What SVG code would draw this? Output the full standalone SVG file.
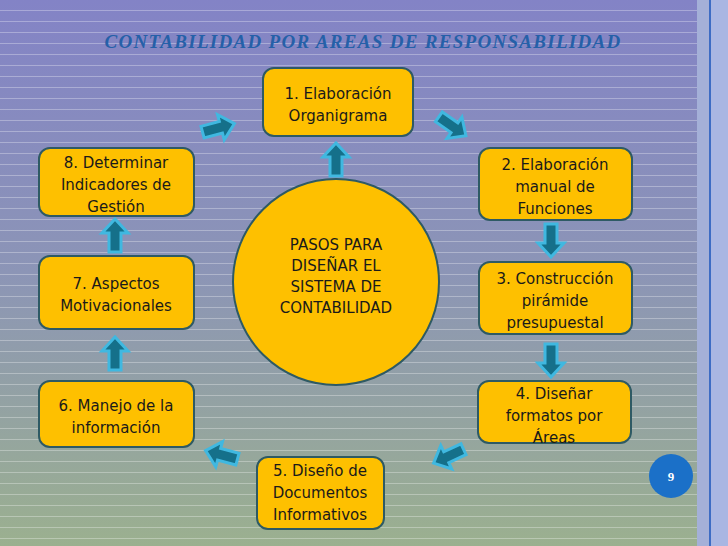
<svg xmlns="http://www.w3.org/2000/svg" width="728" height="546" viewBox="0 0 728 546">
<defs>
<linearGradient id="bg" x1="0" y1="0" x2="0" y2="1"><stop offset="0" stop-color="#8383c6"/><stop offset="0.5" stop-color="#8c95b6"/><stop offset="1" stop-color="#9bb08f"/></linearGradient>
<pattern id="lines" width="10" height="11" patternUnits="userSpaceOnUse"><rect y="10" width="10" height="1.2" fill="#ffffff" opacity="0.3"/></pattern>
<path id="arr" d="M-16,-6 L3,-6 L3,-13 L17,0 L3,13 L3,6 L-16,6 Z"/>
</defs>
<style>
.box{fill:#fec000;stroke:#2e5a64;stroke-width:2}
.t{font-family:"DejaVu Sans",sans-serif;font-size:15px;fill:#1a1a1a;text-anchor:middle}
.a{fill:#15708a;stroke:#40b8e0;stroke-width:3;stroke-linejoin:miter}
</style>
<rect width="728" height="546" fill="url(#bg)"/>
<rect width="700" height="546" fill="url(#lines)"/>
<rect x="697" y="0" width="12" height="546" fill="#a4b0d8"/>
<rect x="709" y="0" width="2" height="546" fill="#3d6cc4"/>
<rect x="711" y="0" width="17" height="546" fill="#a9b6e2"/>
<text x="363" y="48" font-family="Liberation Serif,serif" font-style="italic" font-weight="bold" font-size="19" letter-spacing="1.3" fill="#2560a8" text-anchor="middle">CONTABILIDAD POR AREAS DE RESPONSABILIDAD</text>
<g id="connectors">
<use href="#arr" class="a" transform="translate(218,128) rotate(-15)"/>
<use href="#arr" class="a" transform="translate(452,126) rotate(35)"/>
<use href="#arr" class="a" transform="translate(336,160) rotate(-90)"/>
<use href="#arr" class="a" transform="translate(551,240) rotate(90)"/>
<use href="#arr" class="a" transform="translate(551,360) rotate(90)"/>
<use href="#arr" class="a" transform="translate(449,456) rotate(155)"/>
<use href="#arr" class="a" transform="translate(222,455) rotate(195)"/>
<use href="#arr" class="a" transform="translate(115,354) rotate(-90)"/>
<use href="#arr" class="a" transform="translate(115,236) rotate(-90)"/>
</g>
<g id="center"><circle cx="336" cy="282" r="103" class="box"/>
<text class="t"><tspan x="336" y="250">PASOS PARA</tspan><tspan x="336" y="271">DISEÑAR EL</tspan><tspan x="336" y="292">SISTEMA DE</tspan><tspan x="336" y="313">CONTABILIDAD</tspan></text></g>
<g id="n1"><rect x="263" y="68" width="150" height="68" rx="11" class="box"/>
<text class="t"><tspan x="338" y="99">1. Elaboración</tspan><tspan x="338" y="121">Organigrama</tspan></text></g>
<g id="n2"><rect x="479" y="148" width="153" height="72" rx="11" class="box"/>
<text class="t"><tspan x="555" y="170">2. Elaboración</tspan><tspan x="555" y="192">manual de</tspan><tspan x="555" y="214">Funciones</tspan></text></g>
<g id="n3"><rect x="479" y="262" width="153" height="72" rx="11" class="box"/>
<text class="t"><tspan x="555" y="284">3. Construcción</tspan><tspan x="555" y="306">pirámide</tspan><tspan x="555" y="328">presupuestal</tspan></text></g>
<g id="n4"><rect x="478" y="381" width="153" height="62" rx="11" class="box"/>
<text class="t"><tspan x="554" y="399">4. Diseñar</tspan><tspan x="554" y="421">formatos por</tspan><tspan x="554" y="443">Áreas</tspan></text></g>
<g id="n5"><rect x="257" y="457" width="127" height="72" rx="11" class="box"/>
<text class="t"><tspan x="320" y="476">5. Diseño de</tspan><tspan x="320" y="498">Documentos</tspan><tspan x="320" y="520">Informativos</tspan></text></g>
<g id="n6"><rect x="39" y="381" width="155" height="66" rx="11" class="box"/>
<text class="t"><tspan x="116" y="411">6. Manejo de la</tspan><tspan x="116" y="433">información</tspan></text></g>
<g id="n7"><rect x="39" y="256" width="155" height="73" rx="11" class="box"/>
<text class="t"><tspan x="116" y="289">7. Aspectos</tspan><tspan x="116" y="311">Motivacionales</tspan></text></g>
<g id="n8"><rect x="39" y="148" width="155" height="68" rx="11" class="box"/>
<text class="t"><tspan x="116" y="168">8. Determinar</tspan><tspan x="116" y="190">Indicadores de</tspan><tspan x="116" y="212">Gestión</tspan></text></g>
<g id="page"><circle cx="671" cy="476" r="22" fill="#1b70c8"/>
<text x="671" y="481" font-family="Liberation Serif,serif" font-weight="bold" font-size="13" fill="#fff" text-anchor="middle">9</text></g>
</svg>
